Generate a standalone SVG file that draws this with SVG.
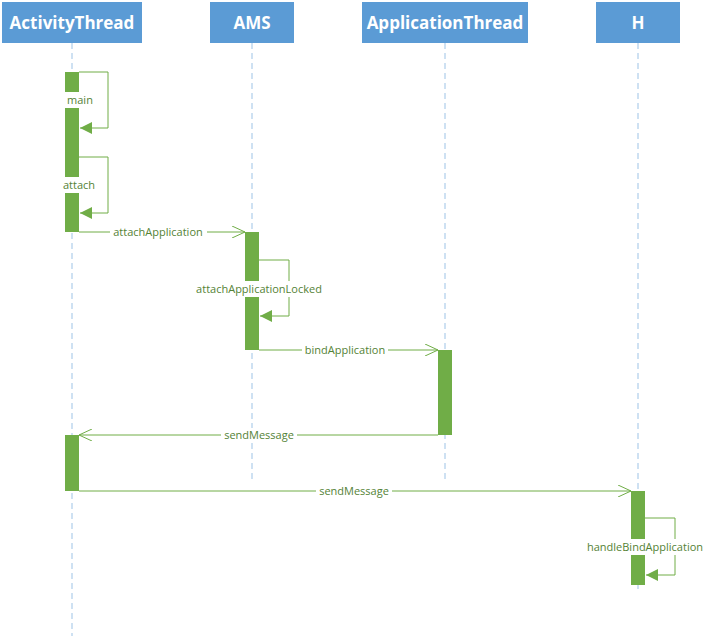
<svg xmlns="http://www.w3.org/2000/svg" width="714" height="636" viewBox="0 0 714 636">
<style>
.hd{fill:#5b9bd5}
.ht{fill:#fff;font:bold 17px "Open Sans","DejaVu Sans",sans-serif;text-anchor:middle}
.ll{stroke:#9dc3e6;stroke-width:1;stroke-dasharray:6,4}
.bar{fill:#70ad47}
.m{stroke:#70ad47;stroke-width:1;fill:none}
.lb{fill:#548235;font:11px "Open Sans","DejaVu Sans",sans-serif;text-anchor:middle}
.bg{fill:#fff}
</style>
<defs>
<marker id="open" markerWidth="14" markerHeight="12" refX="13" refY="6" orient="auto" markerUnits="userSpaceOnUse"><path d="M0,0 L13,6 L0,12" fill="none" stroke="#70ad47"/></marker>
<marker id="fill" markerWidth="13" markerHeight="12" refX="12" refY="6" orient="auto" markerUnits="userSpaceOnUse"><path d="M0,0 L12,6 L0,12 Z" fill="#70ad47"/></marker>
</defs>
<rect width="714" height="636" fill="#fff"/>
<g id="lifelines">
<line class="ll" x1="72" y1="43" x2="72" y2="636"/>
<line class="ll" x1="252" y1="43" x2="252" y2="480"/>
<line class="ll" x1="445" y1="43" x2="445" y2="480"/>
<line class="ll" x1="638" y1="43" x2="638" y2="592"/>
</g>
<g id="ActivityThread"><rect class="hd" x="2" y="2" width="140" height="41"/><text class="ht" x="72" y="29">ActivityThread</text>
<rect class="bar" x="65" y="72" width="14" height="160"/><rect class="bar" x="65" y="435" width="14" height="56"/></g>
<g id="AMS"><rect class="hd" x="210" y="2" width="84" height="41"/><text class="ht" x="252" y="29">AMS</text>
<rect class="bar" x="245" y="232" width="14" height="118"/></g>
<g id="ApplicationThread"><rect class="hd" x="362" y="2" width="166" height="41"/><text class="ht" x="445" y="29">ApplicationThread</text>
<rect class="bar" x="438" y="350" width="14" height="85"/></g>
<g id="H"><rect class="hd" x="596" y="2" width="84" height="41"/><text class="ht" x="638" y="29">H</text>
<rect class="bar" x="631" y="491" width="14" height="94"/></g>
<g id="connectors">
<path class="m" d="M79,72 H108 V128 H80" marker-end="url(#fill)"/>
<path class="m" d="M79,157 H108 V213 H80" marker-end="url(#fill)"/>
<path class="m" d="M259,260 H289 V316 H260" marker-end="url(#fill)"/>
<path class="m" d="M645,518 H675 V575 H646" marker-end="url(#fill)"/>
<line class="m" x1="79" y1="232" x2="245" y2="232" marker-end="url(#open)"/>
<line class="m" x1="259" y1="350" x2="438" y2="350" marker-end="url(#open)"/>
<line class="m" x1="438" y1="435" x2="79" y2="435" marker-end="url(#open)"/>
<line class="m" x1="79" y1="491" x2="631" y2="491" marker-end="url(#open)"/>
<rect class="bg" x="65" y="92" width="30" height="16"/><text class="lb" x="80" y="104">main</text>
<rect class="bg" x="60" y="177" width="38" height="16"/><text class="lb" x="79" y="189">attach</text>
<rect class="bg" x="110" y="225" width="97" height="15"/><text class="lb" x="158" y="236">attachApplication</text>
<rect class="bg" x="192" y="281" width="134" height="16"/><text class="lb" x="259" y="293">attachApplicationLocked</text>
<rect class="bg" x="302" y="343" width="86" height="15"/><text class="lb" x="345" y="354">bindApplication</text>
<rect class="bg" x="221" y="428" width="76" height="15"/><text class="lb" x="259" y="439">sendMessage</text>
<rect class="bg" x="316" y="484" width="76" height="15"/><text class="lb" x="354" y="495">sendMessage</text>
<rect class="bg" x="583" y="539" width="124" height="16"/><text class="lb" x="645" y="551">handleBindApplication</text>
</g>
</svg>
